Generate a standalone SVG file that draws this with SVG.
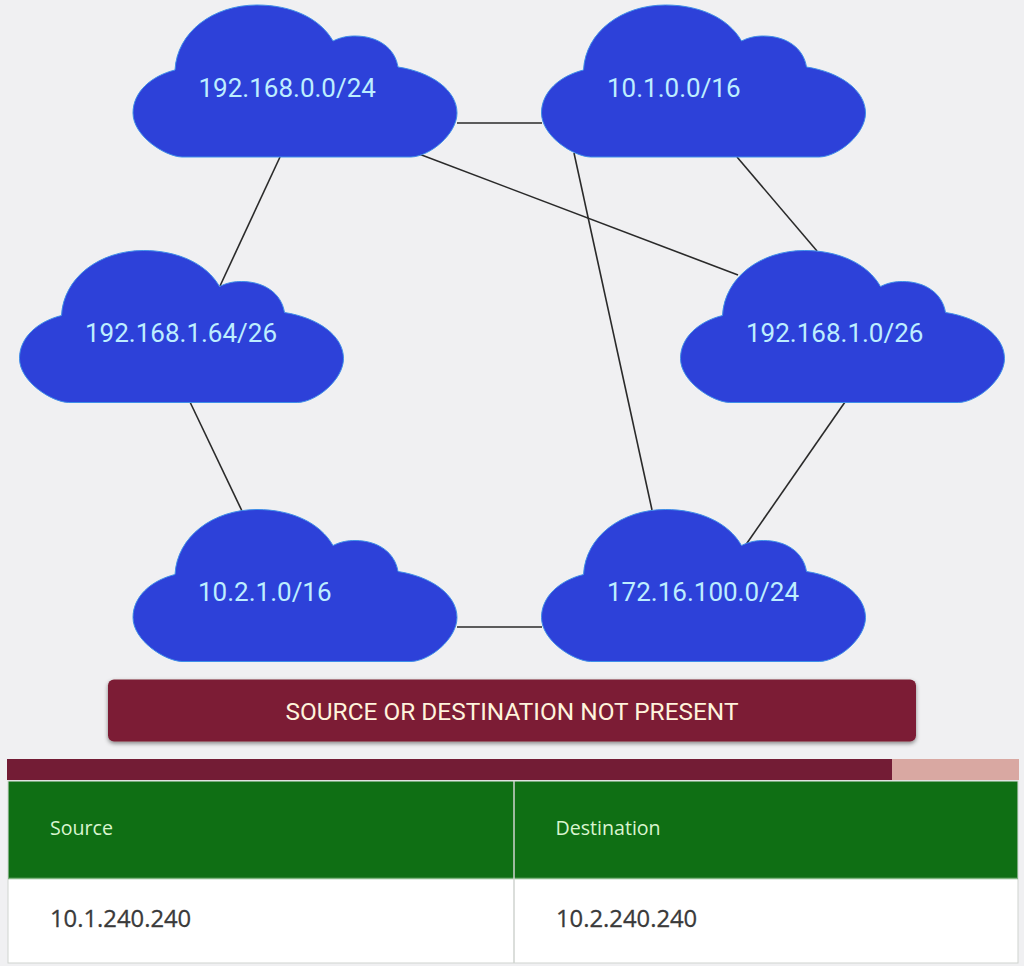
<svg xmlns="http://www.w3.org/2000/svg" width="1024" height="966" viewBox="0 0 1024 966">
<style>
.cloud{fill:#2d41d9;stroke:#3f8fe8;stroke-width:1}
.lbl{font-family:Roboto,"Liberation Sans",sans-serif;font-size:26px;fill:#bdeeff}
.conn line{stroke:#2a2a2a;stroke-width:1.6}
.th{font-family:"Open Sans","Noto Sans",sans-serif;font-size:19.600px;fill:#d9f5cf}
.td{font-family:"Open Sans","Noto Sans",sans-serif;font-size:23.800px;fill:#3a3a3a;stroke:#3a3a3a;stroke-width:.3}
</style>
<defs>
<path id="c" d="M49,157C32,156.500 0,136 0,113C0,92 18,76 42,70C44,32 80,5 124,5C158,5 187,18 200,41C208,37 215,36 222,36C245,36 262,48 265,67C298,72 324,90 324,113C324,134 297,156.500 278,157Z"/>
<filter id="s" x="-5%" y="-20%" width="110%" height="150%"><feDropShadow dx="0" dy="2" stdDeviation="2" flood-color="#000" flood-opacity=".45"/></filter>
</defs>
<rect width="1024" height="966" fill="#f0f0f2"/>
<g id="connectors" class="conn">
<line x1="457" y1="123" x2="542" y2="123"/>
<line x1="419" y1="154" x2="738" y2="275"/>
<line x1="280" y1="157" x2="220" y2="286"/>
<line x1="574" y1="153" x2="652" y2="510"/>
<line x1="737" y1="157" x2="817" y2="251"/>
<line x1="190" y1="402" x2="242" y2="511"/>
<line x1="845" y1="402" x2="745" y2="546"/>
<line x1="457" y1="627" x2="542" y2="627"/>
</g>
<g id="n1"><use href="#c" class="cloud" x="133"/><text class="lbl" x="198.500" y="97">192.168.0.0/24</text></g>
<g id="n2"><use href="#c" class="cloud" x="541.5"/><text class="lbl" x="607" y="97">10.1.0.0/16</text></g>
<g id="n3"><use href="#c" class="cloud" x="19.5" y="245.5"/><text class="lbl" x="85" y="342">192.168.1.64/26</text></g>
<g id="n4"><use href="#c" class="cloud" x="680.5" y="245.5"/><text class="lbl" x="746" y="342">192.168.1.0/26</text></g>
<g id="n5"><use href="#c" class="cloud" x="133" y="504.5"/><text class="lbl" x="198" y="601">10.2.1.0/16</text></g>
<g id="n6"><use href="#c" class="cloud" x="541.5" y="504.5"/><text class="lbl" x="607" y="601">172.16.100.0/24</text></g>
<g id="banner"><rect x="108" y="679.500" width="808" height="62" rx="6" fill="#7c1f35" filter="url(#s)"/>
<text x="512" y="719.500" text-anchor="middle" font-family="Roboto,'Liberation Sans',sans-serif" font-size="24.400" fill="#fff3dc">SOURCE OR DESTINATION NOT PRESENT</text></g>
<g id="progress"><rect x="7" y="759" width="1012" height="21" fill="#d9a8a2"/><rect x="7" y="759" width="885" height="21" fill="#731c35"/></g>
<g id="table">
<rect x="8" y="781" width="1010" height="182" fill="#fff" stroke="#cfd3cf"/>
<rect x="8.500" y="781.500" width="1009" height="97" fill="#0f6f14"/>
<line x1="8" y1="878.500" x2="1018" y2="878.500" stroke="#7fb57f" stroke-width="1.500"/>
<line x1="514" y1="781" x2="514" y2="963" stroke="#cfd3cf" stroke-width="1.500"/>
<text class="th" x="50" y="835">Source</text><text class="th" x="555.500" y="835">Destination</text>
<text class="td" x="50" y="927">10.1.240.240</text><text class="td" x="556" y="927">10.2.240.240</text>
</g>
</svg>
